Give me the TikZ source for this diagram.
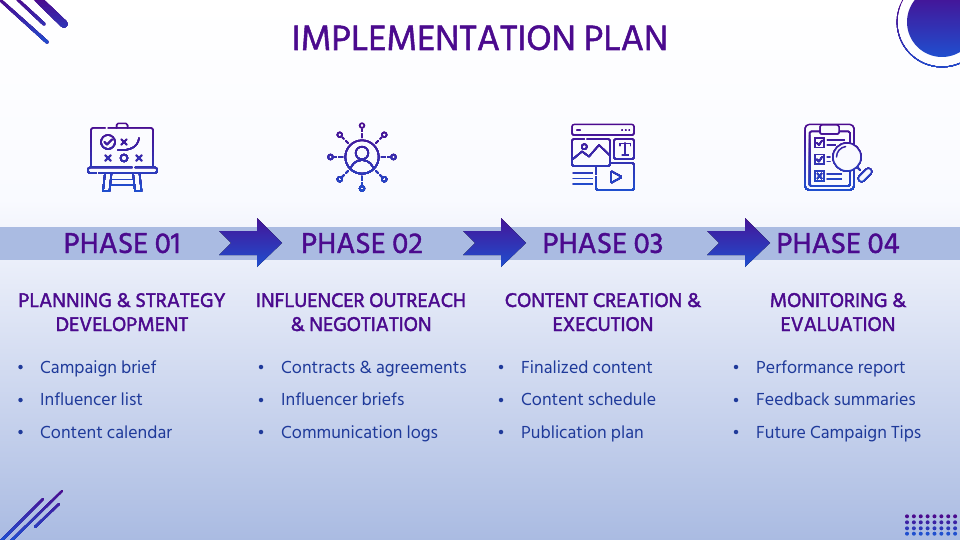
\documentclass[tikz,border=0pt]{standalone}
\usepackage{fontspec}
\usetikzlibrary{calc}
\setmainfont{Hind Siliguri}
\newfontfamily\heavyfont[FakeBold=1.4]{Hind Siliguri}
\newfontfamily\heavierfont[FakeBold=2]{Hind Siliguri}
\definecolor{ink}{HTML}{4B0A8E}
\definecolor{azure}{HTML}{1F4FCF}
\definecolor{band}{HTML}{AABBE2}
\definecolor{bodyink}{HTML}{1F3A9A}
\definecolor{iconbg}{HTML}{F9FAFF}
\pgfdeclareverticalshading{pagefade}{100bp}{color(0bp)=(band); color(25bp)=(band); color(56.5bp)=(iconbg); color(75bp)=(white); color(100bp)=(white)}
\tikzset{
  titlelabel/.style={font=\fontsize{36}{40}\selectfont\heavyfont,text=ink,anchor=base,inner sep=0},
  phaselabel/.style={font=\fontsize{29.5}{30}\selectfont\heavyfont,text=ink,anchor=base,inner sep=0},
  headlabel/.style={font=\fontsize{20.3}{24}\selectfont\heavierfont,text=ink,align=center,anchor=base,inner sep=0},
  itemlabel/.style={font=\fontsize{17.9}{20}\selectfont,text=bodyink,anchor=base west,inner sep=0},
  bulletdot/.style={circle,fill=bodyink,minimum size=4.5pt,inner sep=0},
  arrowshape/.style={top color=ink!85!azure,bottom color=azure,draw=none},
  iconline/.style={cc,line width=1.5pt,line cap=round,line join=round},
}
\newcommand{\gradband}[5]{%
  \foreach \kk in {0,...,15}{
    \pgfmathsetmacro{\yy}{#3+(#4-#3)*\kk/16}
    \pgfmathsetmacro{\pp}{\kk/15*100}
    \begin{scope}
      \clip (#1,\yy) rectangle (#2,#4);
      \colorlet{cc}{azure!\pp!ink}
      #5
    \end{scope}
  }
}
\newcommand{\bigarrow}[1]{
  \fill[arrowshape,shift={(#1,0)}] (219,231)--(257,231)--(257,218)--(282,243)--(257,267)--(257,255)--(219,255)--(231,243)--cycle;
}
\newcommand{\crossmark}[3]{
  \draw[iconline,line width=#3] (#1-2.5,#2-2.5)--(#1+2.5,#2+2.5) (#1-2.5,#2+2.5)--(#1+2.5,#2-2.5);
}
\begin{document}
\begin{tikzpicture}[x=1pt,y=-1pt]
\useasboundingbox (0,0) rectangle (960,540);
\shade[shading=pagefade] (0,0) rectangle (960,540);
\fill[band] (0,227) rectangle (960,260);
\bigarrow{0}\bigarrow{244}\bigarrow{488}
\node[titlelabel] (title) at (480,50) {IMPLEMENTATION PLAN};
\node[phaselabel] (p1) at (122,253) {PHASE 01};
\node[phaselabel] (p2) at (362,253) {PHASE 02};
\node[phaselabel] (p3) at (603,253) {PHASE 03};
\node[phaselabel] (p4) at (838,253) {PHASE 04};
\node[headlabel] (h1) at (122,331) {PLANNING \& STRATEGY\\DEVELOPMENT};
\node[headlabel] (h2) at (361,331) {INFLUENCER OUTREACH\\\& NEGOTIATION};
\node[headlabel] (h3) at (603,331) {CONTENT CREATION \&\\EXECUTION};
\node[headlabel] (h4) at (838,331) {MONITORING \&\\EVALUATION};
\foreach \nm/\bx/\tx/\a/\b/\c in {
 a/20.5/40/Campaign brief/Influencer list/Content calendar,
 b/261/281/Contracts \& agreements/Influencer briefs/Communication logs,
 c/501/521/Finalized content/Content schedule/Publication plan,
 d/736/756/Performance report/Feedback summaries/Future Campaign Tips}{
  \node[bulletdot] (\nm d1) at (\bx,367) {};
  \node[bulletdot] (\nm d2) at (\bx,400) {};
  \node[bulletdot] (\nm d3) at (\bx,432) {};
  \node[itemlabel] (\nm t1) at (\tx,373) {\a};
  \node[itemlabel] (\nm t2) at (\tx,405.5) {\b};
  \node[itemlabel] (\nm t3) at (\tx,438) {\c};
}
% corner decorations
\gradband{-1}{72}{-1}{46}{
  \draw[cc,line width=3pt,line cap=round] (-3,-3)--(47,42);
  \draw[cc,line width=3pt,line cap=round] (15,-3)--(44,24);
  \draw[cc,line width=7.5pt,line cap=round] (35,-4)--(64,24);
}
\begin{scope}
  \clip (880,0) rectangle (960,70);
  \shade[top color=ink,bottom color=azure] (942,22) circle (35);
  \gradband{890}{960}{0}{68}{\draw[cc,line width=0.8pt] (942,22) circle (45);}
\end{scope}
\gradband{0}{66}{488}{541}{
  \draw[cc,line width=2.2pt,line cap=round] (1,541)--(43,499);
  \draw[cc,line width=2.2pt,line cap=round] (11,541)--(62,491);
  \draw[cc,line width=2.2pt,line cap=round] (35,527)--(59,504);
}
\foreach \rr/\ry/\rc in {0/516.3/0,1/522.3/33,2/528.3/66,3/533.7/100}{
  \foreach \cc in {0,...,7}{
    \fill[azure!\rc!ink] ({907+\cc*6.87},\ry) circle (2);
  }
}
% icon 1: strategy board
\gradband{84}{160}{121}{193}{
  \draw[iconline,rounded corners=2] (91,167)--(91,128)--(105,128) (108,128)--(153,128)--(153,167);
  \draw[iconline,rounded corners=1.5] (116.5,128)--(116.5,123.5)--(127.5,123.5)--(127.5,128);
  \draw[iconline] (108,142) circle (7);
  \draw[iconline] (104.5,142)--(107,144.5)--(112,139.5);
  \crossmark{124}{142}{1.6pt}
  \draw[iconline] (118,150) .. controls (130,151) and (138,147) .. (139,138);
  \crossmark{108}{158}{1.6pt}
  \draw[iconline] (124,158) circle (3.5);
  \crossmark{139}{158}{1.6pt}
  \draw[iconline,rounded corners=2] (132,167.5)--(88,167.5)--(88,173)--(96,173) (99,173)--(157,173)--(157,167.5)--(135,167.5);
  \draw[iconline] (105,173)--(103,191)--(109.5,191)--(111.5,173);
  \draw[iconline] (133,173)--(135,191)--(141.5,191)--(139.5,173);
  \draw[iconline] (112,179.5)--(133,179.5) (110.5,185)--(134.5,185);
}
% icon 2: influencer network
\gradband{325}{400}{120}{194}{
  \draw[iconline] (362,157) circle (16.7);
  \draw[iconline] (362,153) circle (6.3);
  \draw[iconline] (362,172) ++(205:12) arc[start angle=205,end angle=335,radius=12];
  \foreach \aa in {0,45,...,315}{
    \draw[iconline] ($(362,157)+(\aa:19.5)$)--($(362,157)+(\aa:23)$);
    \draw[iconline] ($(362,157)+(\aa:25.8)$)--($(362,157)+(\aa:27.8)$);
    \draw[iconline] ($(362,157)+(\aa:31.5)$) circle (2.4);
  }
}
% icon 3: content layout
\gradband{568}{638}{122}{192}{
  \draw[iconline,rounded corners=2] (572,124.5) rectangle (634,135);
  \draw[iconline] (577,130)--(580,130) (622,130)--(622.2,130) (625.7,130)--(625.9,130) (629.2,130)--(629.4,130);
  \draw[iconline,rounded corners=2] (584,139)--(572,139)--(572,166)--(610,166)--(610,139)--(587,139);
  \draw[iconline] (584.3,146.7) circle (2.6);
  \draw[iconline] (573,159)--(582,151.5)--(589,156.5)--(599,145)--(609.5,155);
  \draw[iconline,rounded corners=2] (614,139) rectangle (634,159);
  \draw[iconline] (620,145.5)--(620,143.3)--(630.5,143.3)--(630.5,145.5) (625.2,143.3)--(625.2,155) (622.5,155)--(628,155);
  \draw[iconline,rounded corners=2] (596,177)--(596,190)--(634,190)--(634,163)--(610,163);
  \draw[iconline] (596,166.5)--(596,174);
  \draw[iconline,rounded corners=1] (611,171)--(611,183)--(622,177)--cycle;
  \draw[iconline] (573.5,173)--(592,173) (573.5,178.5)--(592,178.5) (573.5,184)--(592,184);
}
% icon 4: checklist with magnifier
\gradband{800}{876}{122}{192}{
  \draw[iconline,rounded corners=4] (805,124.5) rectangle (854,190);
  \draw[iconline,rounded corners=1.5] (820,131.5)--(809.5,131.5)--(809.5,186)--(850,186)--(850,131.5)--(839,131.5);
  \draw[iconline,fill=iconbg,rounded corners=2] (820,125) rectangle (839,134);
  \draw[iconline] (815,138) rectangle (824,147.5);
  \draw[iconline] (817,143)--(819,145)--(822,140.5);
  \draw[iconline] (815,154.5) rectangle (824,164);
  \draw[iconline] (817,159.5)--(819,161.5)--(822,157);
  \draw[iconline] (815,171) rectangle (824,181);
  \draw[iconline] (817.5,173.5)--(821.5,178.5) (817.5,178.5)--(821.5,173.5);
  \draw[iconline] (827.5,140)--(844,140) (827.5,145)--(835,145) (827.5,157)--(829.5,157) (827.5,161.5)--(829.5,161.5);
  \draw[iconline] (827.5,174)--(841,174) (827.5,179)--(841,179);
  \draw[iconline,fill=iconbg] (847,157) circle (14);
  \draw[iconline] (847,157) ++(180:10.5) arc[start angle=180,end angle=262,radius=10.5];
  \draw[iconline] (857,167)--(860,170);
  \draw[iconline,fill=iconbg,rotate around={45:(865,175)},rounded corners=3] (857,171.8) rectangle (873,178.2);
}
\end{tikzpicture}
\end{document}
